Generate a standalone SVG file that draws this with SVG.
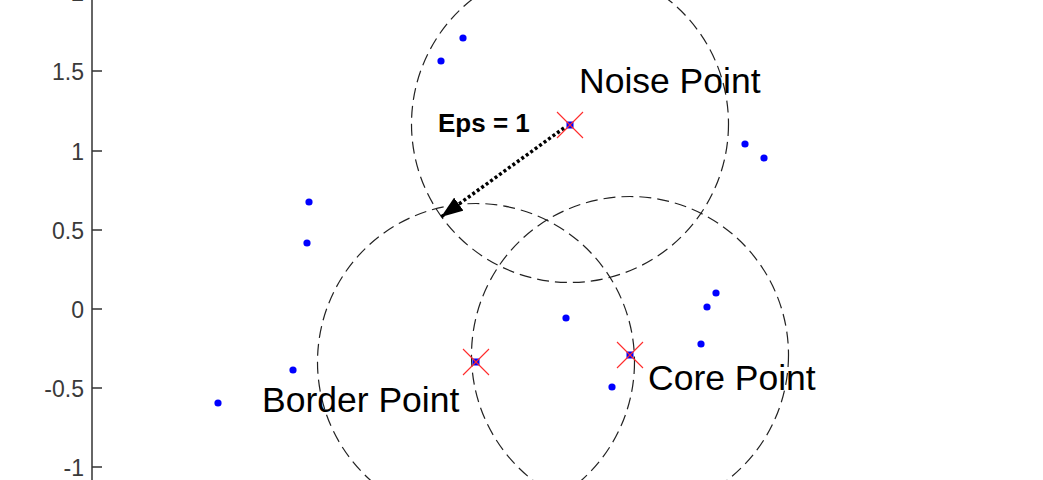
<svg xmlns="http://www.w3.org/2000/svg" width="1043" height="480" viewBox="0 0 1043 480">
  <style>
    .tick { font-family: "Liberation Sans", Arial, sans-serif; font-size: 23px; fill: #3a3a3a; text-anchor: end; }
    .lbl { font-family: "Liberation Sans", Arial, sans-serif; font-size: 35.5px; fill: #000; }
    .eps { font-family: "Liberation Sans", Arial, sans-serif; font-size: 26px; font-weight: bold; fill: #000; }
    .circ { fill: none; stroke: #222; stroke-width: 1.2; stroke-dasharray: 12 6; }
    .pt { fill: #0000ff; }
    .sq { fill: #0000ff; }
    .x { stroke: #ff2a2a; stroke-width: 1.1; }
    .axis { stroke: #333; stroke-width: 1.5; fill: none; }
  </style>
  <defs>
    <marker id="ah" viewBox="0 0 22 16" refX="22" refY="8" markerWidth="22" markerHeight="16" markerUnits="userSpaceOnUse" orient="auto">
      <path d="M0,0 L22,8 L0,16 Z" fill="#000"/>
    </marker>
    <g id="xm">
      <rect class="sq" x="-3.5" y="-3.5" width="7" height="7"/>
      <line class="x" x1="-13" y1="-13" x2="13" y2="13"/>
      <line class="x" x1="-13" y1="13" x2="13" y2="-13"/>
    </g>
  </defs>
  <rect width="1043" height="480" fill="#fff"/>

  <g id="axis">
    <line class="axis" x1="92" y1="0" x2="92" y2="480"/>
    <path class="axis" d="M92,71H102M92,151H102M92,230H102M92,309H102M92,388H102M92,467H102"/>
    <text class="tick" x="84" y="0.5">2</text>
    <text class="tick" x="84" y="79.5">1.5</text>
    <text class="tick" x="84" y="159.5">1</text>
    <text class="tick" x="84" y="238.5">0.5</text>
    <text class="tick" x="84" y="317.5">0</text>
    <text class="tick" x="84" y="396.5">-0.5</text>
    <text class="tick" x="84" y="475.5">-1</text>
  </g>

  <g id="circles">
    <circle id="circle-noise" class="circ" cx="570" cy="124" r="158.5"/>
    <circle id="circle-border" class="circ" cx="476" cy="362" r="158.5"/>
    <circle id="circle-core" class="circ" cx="630" cy="355" r="158.5"/>
  </g>

  <g id="points">
    <circle class="pt" cx="463" cy="38" r="3.6"/>
    <circle class="pt" cx="441" cy="61" r="3.6"/>
    <circle class="pt" cx="745" cy="144" r="3.6"/>
    <circle class="pt" cx="764" cy="158" r="3.6"/>
    <circle class="pt" cx="309" cy="202" r="3.6"/>
    <circle class="pt" cx="307" cy="243" r="3.6"/>
    <circle class="pt" cx="293" cy="370" r="3.6"/>
    <circle class="pt" cx="218" cy="403" r="3.6"/>
    <circle class="pt" cx="566" cy="318" r="3.6"/>
    <circle class="pt" cx="612" cy="387" r="3.6"/>
    <circle class="pt" cx="716" cy="293" r="3.6"/>
    <circle class="pt" cx="707" cy="307" r="3.6"/>
    <circle class="pt" cx="701" cy="344" r="3.6"/>
  </g>

  <g id="connectors">
    <line x1="564" y1="128" x2="441" y2="217" stroke="#000" stroke-width="3.5" stroke-dasharray="3 2.5" marker-end="url(#ah)"/>
  </g>

  <g id="noise-point">
    <use href="#xm" x="570" y="125"/>
    <text class="lbl" x="579" y="92.5">Noise Point</text>
  </g>
  <g id="border-point">
    <use href="#xm" x="476" y="362"/>
    <text class="lbl" x="262" y="411.5">Border Point</text>
  </g>
  <g id="core-point">
    <use href="#xm" x="630" y="355"/>
    <text class="lbl" x="648" y="390">Core Point</text>
  </g>
  <g id="eps-label">
    <text class="eps" x="438" y="131.5">Eps = 1</text>
  </g>
</svg>
